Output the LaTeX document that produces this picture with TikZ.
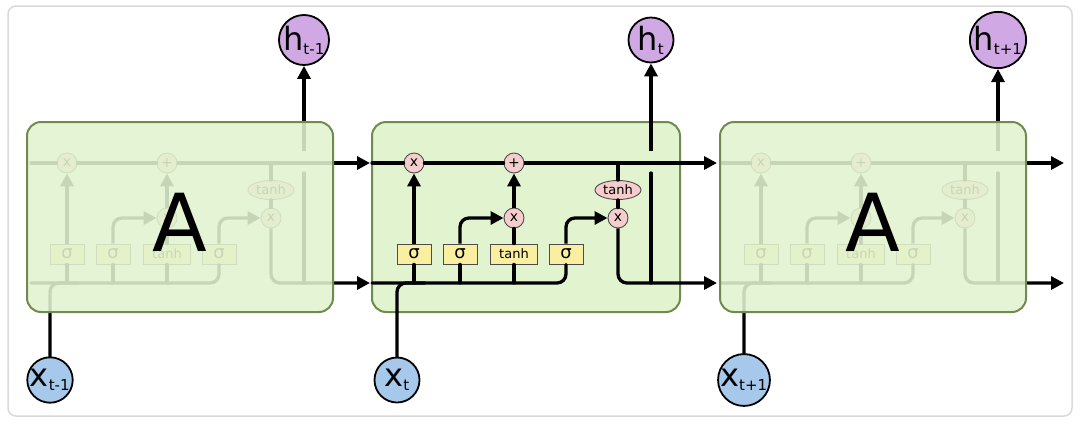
\documentclass[tikz,border=0pt]{standalone}
\usepackage{fontspec}
\setmainfont{DejaVu Sans}
\usetikzlibrary{arrows.meta,shapes.geometric}
\definecolor{cellg}{RGB}{226,243,208}
\definecolor{cellb}{RGB}{110,140,80}
\definecolor{gatey}{RGB}{250,238,160}
\definecolor{opp}{RGB}{246,205,205}
\definecolor{hpur}{RGB}{208,168,228}
\definecolor{xblue}{RGB}{165,200,235}
\tikzset{
 line/.style={line width=3.3pt,line cap=round},
 arr/.style={line width=3.3pt,-{Triangle[length=13pt,width=13pt]}},
 cell/.style={draw=cellb,line width=2pt,fill=cellg,rounded corners=14pt},
 gate/.style={draw=black!70,line width=0.9pt,fill=gatey,minimum height=20pt,inner sep=2pt,font=\fontsize{18}{18}\selectfont},
 op/.style={circle,draw=black!70,line width=0.9pt,fill=opp,minimum size=20pt,inner sep=0pt,font=\fontsize{14}{14}\selectfont},
 th/.style={ellipse,draw=black!70,line width=0.9pt,fill=opp,minimum width=46pt,minimum height=19pt,inner sep=0pt,font=\fontsize{13}{13}\selectfont},
 hc/.style={circle,draw=black,line width=1.8pt,fill=hpur,minimum size=45pt,inner sep=0pt,font=\fontsize{32}{32}\selectfont},
 xc/.style={circle,draw=black,line width=1.8pt,fill=xblue,minimum size=45pt,inner sep=0pt,font=\fontsize{32}{32}\selectfont},
}
\newcommand\lstmin[2]{%
 \node[op] (f#1) at (414,163) {x};
 \node[op] (p#1) at (514,163) {+};
 \node[op] (m#1) at (514,218) {x};
 \node[op] (o#1) at (618,218) {x};
 \node[th] (t#1) at (618,190) {tanh};
 \node[gate,minimum width=34pt] (sa#1) at (414,254) {σ};
 \node[gate,minimum width=34pt] (sb#1) at (460,254) {σ};
 \node[gate,minimum width=47pt,font=\fontsize{13}{13}\selectfont] (sc#1) at (514,254) {tanh};
 \node[gate,minimum width=34pt] (sd#1) at (566,254) {σ};
 \coordinate (cl#1) at (#2,163);
 \coordinate (cr#1) at (717,163);
 \coordinate (hl#1) at (#2,283);
 \coordinate (hr#1) at (717,283);
 \coordinate (tj#1) at (618,163);
 \coordinate (hb#1) at (651,283);
 \coordinate (g1#1) at (651,173);
 \coordinate (g2#1) at (651,151);
 \coordinate (ja#1) at (414,283);
 \coordinate (jb#1) at (460,283);
 \coordinate (jc#1) at (514,283);
 \coordinate (jx#1) at (425,283);
 \draw[line] (cl#1) -- (f#1) -- (p#1);
 \draw[arr] (p#1) -- (cr#1);
 \draw[line,rounded corners=9pt] (hl#1) -| (sd#1.south);
 \draw[line] (sa#1.south) -- (ja#1);
 \draw[line] (sb#1.south) -- (jb#1);
 \draw[line] (sc#1.south) -- (jc#1);
 \draw[arr] (sa#1) -- (f#1);
 \draw[arr,rounded corners=9pt] (sb#1.north) |- (m#1);
 \draw[line] (sc#1) -- (m#1);
 \draw[arr] (m#1) -- (p#1);
 \draw[arr,rounded corners=9pt] (sd#1.north) |- (o#1);
 \draw[line] (tj#1) -- (t#1);
 \draw[line] (t#1) -- (o#1);
 \draw[arr,rounded corners=9pt] (o#1.south) |- (hr#1);
 \draw[line] (hb#1) -- (g1#1);
}
\begin{document}
\begin{tikzpicture}[x=1pt,y=-1pt]
\useasboundingbox (0,0) rectangle (1080,424);
\draw[black!15,line width=1.5pt,fill=white,rounded corners=8pt] (8,6) rectangle (1072,416);
% left cell
\begin{scope}[xshift=-347pt]
 \lstmin{L}{378}
 \node[hc] (hL) at (651,40) {h\textsubscript{\fontsize{15}{15}\selectfont t-1}};
 \draw[arr] (g2L) -- (hL);
 \node[xc] (xL) at (397,380) {x\textsubscript{\fontsize{15}{15}\selectfont t-1}};
 \draw[line,rounded corners=9pt] (xL) |- (jxL);
\end{scope}
\node[cell,fill opacity=0.88,minimum width=306pt,minimum height=190pt] (A) at (180,217) {};
\node[font=\fontsize{80}{80}\selectfont] (Alab) at (180,222) {A};
% middle cell
\node[cell,minimum width=308pt,minimum height=190pt] (B) at (526,217) {};
\lstmin{M}{372}
\node[hc] (hM) at (651,40) {h\textsubscript{\fontsize{15}{15}\selectfont t}};
\draw[arr] (g2M) -- (hM);
\node[xc] (xM) at (397,380) {x\textsubscript{\fontsize{15}{15}\selectfont t}};
\draw[line,rounded corners=9pt] (xM) |- (jxM);
% right cell
\begin{scope}[xshift=347pt]
 \lstmin{R}{374}
 \node[hc] (hR) at (651,40) {h\textsubscript{\fontsize{15}{15}\selectfont t+1}};
 \draw[arr] (g2R) -- (hR);
 \node[xc] (xR) at (397,380) {x\textsubscript{\fontsize{15}{15}\selectfont t+1}};
 \draw[line,rounded corners=9pt] (xR) |- (jxR);
\end{scope}
\node[cell,fill opacity=0.88,minimum width=306pt,minimum height=190pt] (C) at (873,217) {};
\node[font=\fontsize{80}{80}\selectfont] (Clab) at (873,222) {A};
\end{tikzpicture}
\end{document}
